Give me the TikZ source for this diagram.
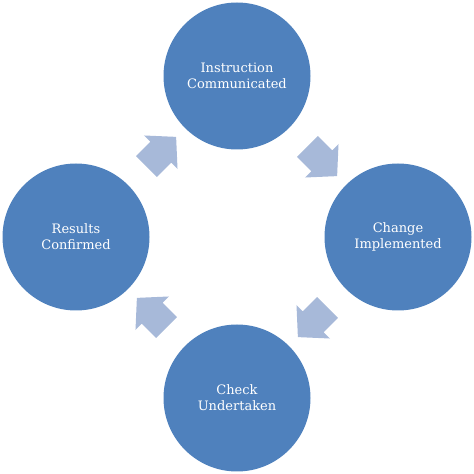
\documentclass[tikz,border=0pt]{standalone}
\usepackage{fontspec}
\setmainfont{DejaVu Serif}
\usepackage{xcolor}
\usepackage{tikz}
\usetikzlibrary{shapes.arrows, positioning, calc}
\definecolor{stageblue}{HTML}{4F81BD}
\definecolor{flowblue}{HTML}{A7B9D9}

\begin{document}
\begin{tikzpicture}[
  x=1pt, y=1pt,
  font=\fontsize{13}{16}\selectfont,
  node distance=161pt and 161pt, on grid,
  stage/.style={circle, minimum size=147pt, inner sep=0pt, fill=stageblue, text=white, align=center},
  flow/.style={single arrow, minimum width=47pt, minimum height=42pt, single arrow head extend=9pt, single arrow tip angle=95, inner xsep=0pt, inner ysep=14.5pt, fill=flowblue}
]
\useasboundingbox (0,0) rectangle (474,474);
\node (instr) [stage] at (237,398) {Instruction\\Communicated};
\node (change) [stage, below right=of instr] {Change\\Implemented};
\node (check) [stage, below left=of change] {Check\\Undertaken};
\node (results) [stage, above left=of check] {Results\\Confirmed};
\node (flow1) [flow, rotate=-45] at ($(instr)!0.5!(change)$) {};
\node (flow2) [flow, rotate=-135] at ($(change)!0.5!(check)$) {};
\node (flow3) [flow, rotate=135] at ($(check)!0.5!(results)$) {};
\node (flow4) [flow, rotate=45] at ($(results)!0.5!(instr)$) {};
\end{tikzpicture}
\end{document}
